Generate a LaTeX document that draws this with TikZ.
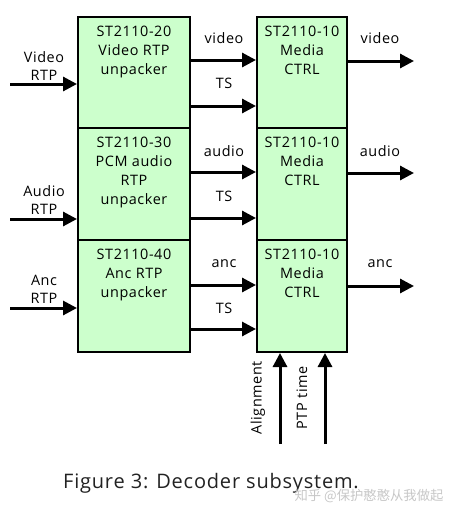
\documentclass[tikz,border=0pt]{standalone}
\usepackage{fontspec}
\setmainfont{Open Sans}[LetterSpace=4]
\newfontfamily\cjk{Noto Sans CJK SC}
\usetikzlibrary{positioning}
\usetikzlibrary{calc}
\usetikzlibrary{arrows.meta}
\definecolor{boxgreen}{RGB}{204,255,204}
\definecolor{captiongray}{RGB}{34,34,34}

\tikzset{
  block/.style={draw=black, line width=1.5pt, fill=boxgreen, rectangle, inner sep=0pt},
  blocktext/.style={anchor=north, align=center, inner sep=0pt, font=\fontsize{10.8}{14.25}\selectfont},
  sig/.style={line width=2.25pt, -{Triangle[length=10.5pt,width=10.5pt]}},
  siglabel/.style={inner sep=0pt, align=center, font=\fontsize{10.8}{13.5}\selectfont}
}

\begin{document}
\begin{tikzpicture}[x=0.75pt,y=-0.75pt]
					\useasboundingbox (0,0) rectangle (454,515);

					% unpackers
					\node [block, minimum width=84pt, minimum height=83.25pt] (vidunp) at (134,72.5) {};
					\node [block, minimum width=84pt, minimum height=84pt] (audunp) at (134,184) {};
					\node [block, minimum width=84pt, minimum height=84pt] (ancunp) at (134,296) {};

					% media control
					\node [block, minimum width=67.5pt, minimum height=83.25pt] (vidctrl) at (302,72.5) {};
					\node [block, minimum width=67.5pt, minimum height=84pt] (audctrl) at (302,184) {};
					\node [block, minimum width=67.5pt, minimum height=84pt] (ancctrl) at (302,296) {};

					\node [blocktext] (vidunptxt) at ([yshift=-7.5pt]vidunp.north) {ST2110-20\\Video RTP\\unpacker};
					\node [blocktext] (audunptxt) at ([yshift=-7.5pt]audunp.north) {ST2110-30\\PCM audio\\RTP\\unpacker};
					\node [blocktext] (ancunptxt) at ([yshift=-7.5pt]ancunp.north) {ST2110-40\\Anc RTP\\unpacker};
					\node [blocktext] (vidctrltxt) at ([yshift=-7.5pt]vidctrl.north) {ST2110-10\\Media\\CTRL};
					\node [blocktext] (audctrltxt) at ([yshift=-7.5pt]audctrl.north) {ST2110-10\\Media\\CTRL};
					\node [blocktext] (ancctrltxt) at ([yshift=-7.5pt]ancctrl.north) {ST2110-10\\Media\\CTRL};

					% inputs
					\coordinate (vidin) at (10,84);
					\coordinate (audin) at (10,219);
					\coordinate (ancin) at (10,308);
					\draw [sig] (vidin) -- (vidin -| vidunp.west);
					\draw [sig] (audin) -- (audin -| audunp.west);
					\draw [sig] (ancin) -- (ancin -| ancunp.west);
					\node [siglabel, anchor=south] (vidinlbl) at (44,80.5) {Video\\RTP};
					\node [siglabel, anchor=south] (audinlbl) at (44,215) {Audio\\RTP};
					\node [siglabel, anchor=south] (ancinlbl) at (44,304) {Anc\\RTP};

					% unpacker to control
					\foreach \u/\c/\a/\b in {vidunp/vidctrl/44/90, audunp/audctrl/45/91, ancunp/ancctrl/46/90} {
						\draw [sig] ([yshift=-\a*0.75pt]\u.north east) -- ([yshift=-\a*0.75pt]\c.north west);
						\draw [sig] ([yshift=-\b*0.75pt]\u.north east) -- ([yshift=-\b*0.75pt]\c.north west);
					}
					\node [siglabel] (vidmid) at (224,38) {video};
					\node [siglabel] (vidts) at (224,83) {TS};
					\node [siglabel] (audmid) at (224,151) {audio};
					\node [siglabel] (audts) at (224,196) {TS};
					\node [siglabel] (ancmid) at (224,264) {anc};
					\node [siglabel] (ancts) at (224,308) {TS};

					% outputs
					\coordinate (vidout) at (414,61);
					\coordinate (audout) at (414,173);
					\coordinate (ancout) at (414,286);
					\draw [sig] (vidout -| vidctrl.east) -- (vidout);
					\draw [sig] (audout -| audctrl.east) -- (audout);
					\draw [sig] (ancout -| ancctrl.east) -- (ancout);
					\node [siglabel] (vidoutlbl) at (380,38) {video};
					\node [siglabel] (audoutlbl) at (380,151) {audio};
					\node [siglabel] (ancoutlbl) at (380,264) {anc};

					% timing
					\coordinate (align) at (280,444);
					\coordinate (ptp) at (325,444);
					\draw [sig] (align) -- (align |- ancctrl.south);
					\draw [sig] (ptp) -- (ptp |- ancctrl.south);
					\node [siglabel, rotate=90] (alignlbl) at (258,398) {Alignment};
					\node [siglabel, rotate=90] (ptplbl) at (302,398) {PTP time};

					\node [inner sep=0pt, text=captiongray, font=\fontsize{15}{18}\selectfont] (caption) at (211,483) {Figure 3: Decoder subsystem.};
					\node [inner sep=0pt, text=black!22, font=\cjk\fontsize{10}{12}\selectfont] (mark) at (369,496) {知乎 @保护憨憨从我做起};
				\end{tikzpicture}
\end{document}
